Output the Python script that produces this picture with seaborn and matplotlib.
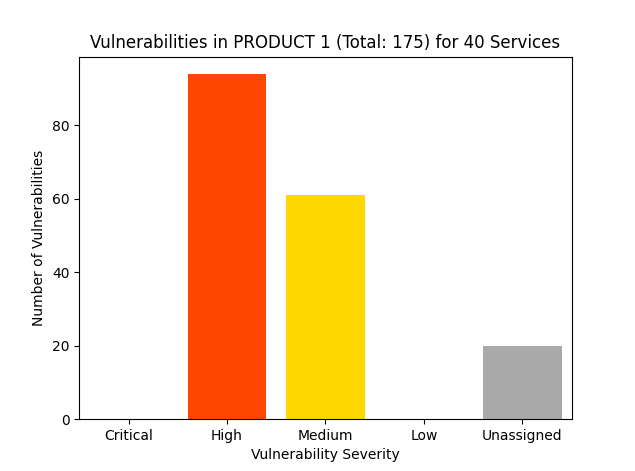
import matplotlib
matplotlib.use("Agg")
import matplotlib.pyplot as plt
import seaborn as sns
import pandas as pd

severities = ["Critical", "High", "Medium", "Low", "Unassigned"]
counts = [0, 94, 61, 0, 20]
colors = ["darkred", "orangered", "gold", "green", "darkgray"]

df = pd.DataFrame({"Severity": severities, "Count": counts})
fig, ax = plt.subplots(figsize=(6.35, 4.71), dpi=100)
sns.barplot(data=df, x="Severity", y="Count", hue="Severity", palette=colors,
            saturation=1, width=0.8, legend=False, ax=ax)
ax.set_title("Vulnerabilities in PRODUCT 1 (Total: 175) for 40 Services")
ax.set_xlabel("Vulnerability Severity")
ax.set_ylabel("Number of Vulnerabilities")
fig.savefig("out.png", dpi=100)
